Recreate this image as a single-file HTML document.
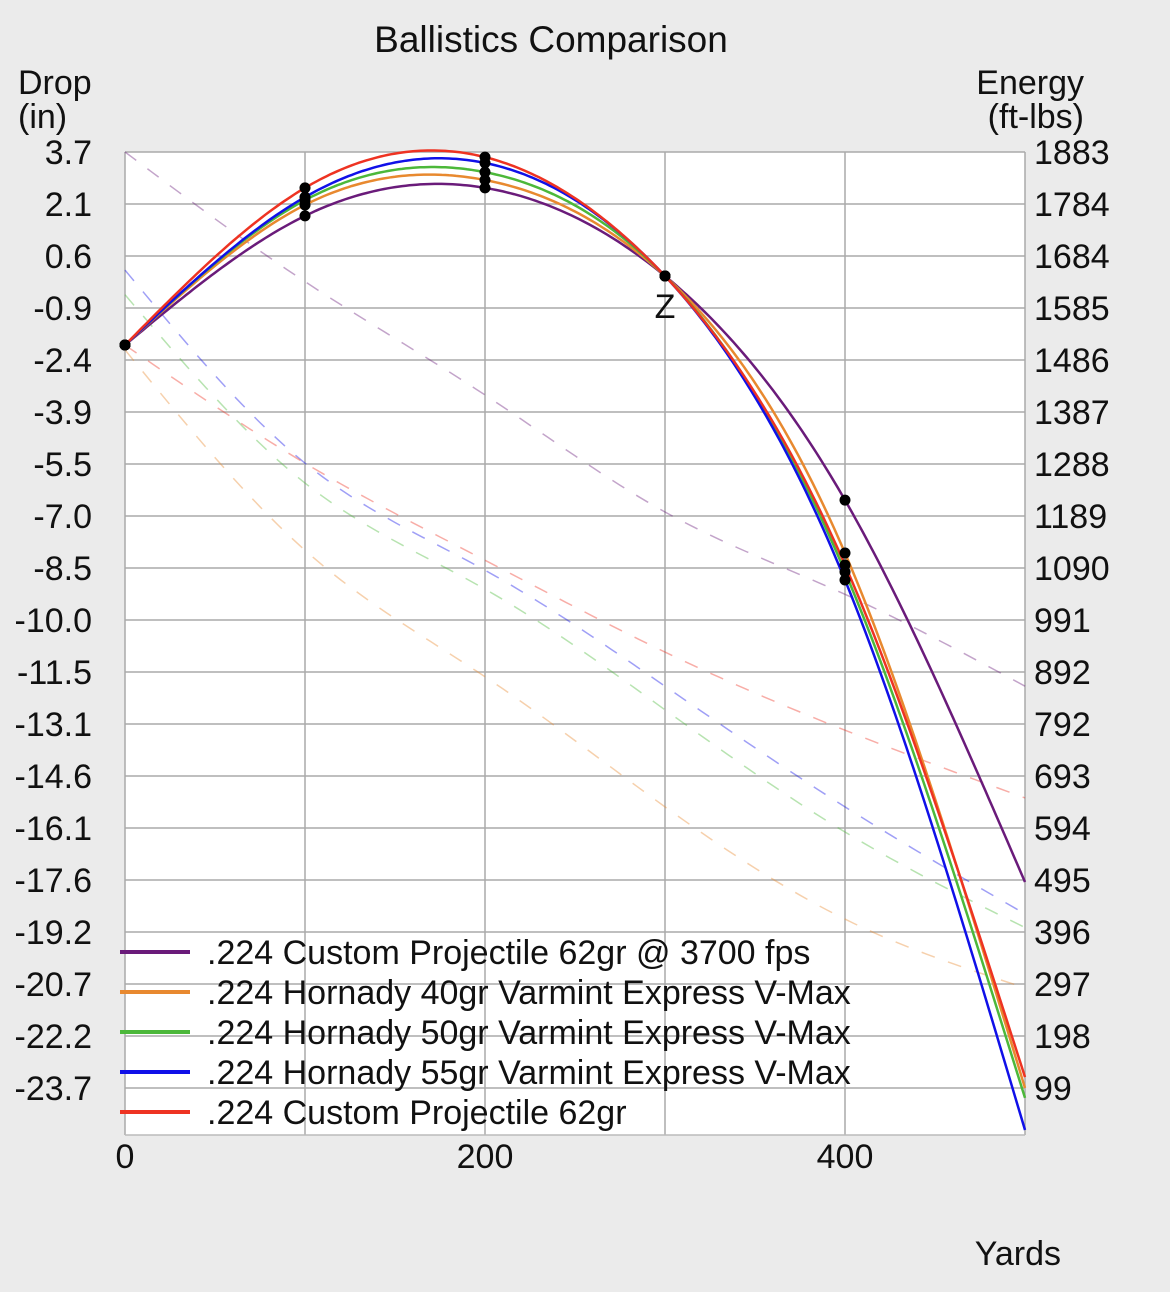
<!DOCTYPE html>
<html><head><meta charset="utf-8"><style>
html,body{margin:0;padding:0;background:#ebebeb;}
svg{display:block;font-family:"Liberation Sans",sans-serif;}
</style></head><body>
<svg id="chart" width="1170" height="1292">
<text x="551" y="52" font-size="37" text-anchor="middle" fill="#111">Ballistics Comparison</text>
<text x="18" y="94" font-size="34" fill="#111">Drop</text>
<text x="18" y="128" font-size="34" fill="#111">(in)</text>
<text x="1084" y="94" font-size="34" text-anchor="end" fill="#111">Energy</text>
<text x="1084" y="128" font-size="34" text-anchor="end" fill="#111">(ft-lbs)</text>
<text x="1061" y="1265" font-size="34" text-anchor="end" fill="#111">Yards</text>
<rect x="125" y="152" width="900" height="983" fill="#fff"/>
<g id="grid"></g><g id="energy"></g><g id="drops"></g><g id="dots"></g><g id="axes"></g><g id="legend"></g>
</svg>
<script>
const yards=[0,100,200,300,400,500];
const seriesNames=[".224 Custom Projectile 62gr @ 3700 fps",".224 Hornady 40gr Varmint Express V-Max",".224 Hornady 50gr Varmint Express V-Max",".224 Hornady 55gr Varmint Express V-Max",".224 Custom Projectile 62gr"];
const seriesColors=["#6a1b7a","#e8892f","#4cb83a","#1010e8","#ee3322"];
const dropPurple=[-1.95,1.83,2.65,0.07,-6.49,-17.67];
const dropOrange=[-1.95,2.15,2.88,0.07,-8.04,-23.70];
const dropGreen=[-1.95,2.29,3.11,0.07,-8.59,-23.99];
const dropBlue=[-1.95,2.38,3.38,0.07,-8.83,-24.93];
const dropRed=[-1.95,2.65,3.55,0.07,-8.39,-23.38];
const energyPurple=[1883,1636,1420,1197,1040,865];
const energyOrange=[1506,1124,883,635,421,290];
const energyGreen=[1611,1252,1050,820,587,405];
const energyBlue=[1658,1290,1086,865,635,431];
const energyRed=[1515,1290,1105,930,781,652];
const leftTicks=["3.7","2.1","0.6","-0.9","-2.4","-3.9","-5.5","-7.0","-8.5","-10.0","-11.5","-13.1","-14.6","-16.1","-17.6","-19.2","-20.7","-22.2","-23.7"];
const rightTicks=["1883","1784","1684","1585","1486","1387","1288","1189","1090","991","892","792","693","594","495","396","297","198","99"];
const xTicks=[0,200,400];
const xGrid=[0,100,200,300,400,500];
const drops=[dropPurple,dropOrange,dropGreen,dropBlue,dropRed];
const energies=[energyPurple,energyOrange,energyGreen,energyBlue,energyRed];

const NS="http://www.w3.org/2000/svg";
const X0=125,X1=1025,Y0=152,Y1=1135;
const xs=v=>X0+(v-0)/500*(X1-X0);
const dTop=3.7,dPerPx=0.029273;
const yd=v=>Y0+(dTop-v)/dPerPx;
const eTop=1883,ePerPx=99.1/52;
const ye=v=>Y0+(eTop-v)/ePerPx;
function mk(tag,attrs,parent){const e=document.createElementNS(NS,tag);for(const k in attrs)e.setAttribute(k,attrs[k]);document.getElementById(parent).appendChild(e);return e;}

for(let i=0;i<leftTicks.length;i++){
  const y=Y0+i*52;
  const l=mk('line',{x1:X0,x2:X1,y1:y,y2:y,stroke:'#aaa','stroke-width':1.5},'grid');
  
  
  const t=mk('text',{x:92,y:y+12,'font-size':34,'text-anchor':'end',fill:'#111'},'axes');
  t.textContent=leftTicks[i];
  
  
  const r=mk('text',{x:1034,y:y+12,'font-size':34,fill:'#111'},'axes');
  r.textContent=rightTicks[i];
  
  
}
xGrid.forEach(v=>{
  const l=mk('line',{x1:xs(v),x2:xs(v),y1:Y0,y2:Y1,stroke:'#aaa','stroke-width':1.5},'grid');
  
  
});
const bl=mk('line',{x1:X0,x2:X1,y1:Y1,y2:Y1,stroke:'#bbb','stroke-width':1.5},'grid');


xTicks.forEach(v=>{
  const t=mk('text',{x:xs(v),y:1168,'font-size':34,'text-anchor':'middle',fill:'#111'},'axes');
  t.textContent=v;
  
  
});

function spline(xa,ya){
  const n=xa.length-1,h=[],al=[],l=[1],mu=[0],z=[0],c=new Array(n+1).fill(0),b=[],d=[];
  for(let i=0;i<n;i++)h.push(xa[i+1]-xa[i]);
  for(let i=1;i<n;i++)al[i]=3/h[i]*(ya[i+1]-ya[i])-3/h[i-1]*(ya[i]-ya[i-1]);
  for(let i=1;i<n;i++){l[i]=2*(xa[i+1]-xa[i-1])-h[i-1]*mu[i-1];mu[i]=h[i]/l[i];z[i]=(al[i]-h[i-1]*z[i-1])/l[i];}
  l[n]=1;z[n]=0;
  for(let j=n-1;j>=0;j--){c[j]=z[j]-mu[j]*c[j+1];b[j]=(ya[j+1]-ya[j])/h[j]-h[j]*(c[j+1]+2*c[j])/3;d[j]=(c[j+1]-c[j])/(3*h[j]);}
  return x=>{let j=Math.min(n-1,Math.max(0,Math.floor((x-xa[0])/h[0])));const t=x-xa[j];return ya[j]+b[j]*t+c[j]*t*t+d[j]*t*t*t;};
}

energies.forEach((arr,i)=>{
  const f=spline(yards,arr);const pts=[];
  for(let x=0;x<=500;x+=5)pts.push(xs(x).toFixed(1)+','+ye(f(x)).toFixed(1));
  const p=mk('polyline',{points:pts.join(' '),fill:'none',stroke:seriesColors[i],'stroke-opacity':0.4,'stroke-width':1.5,'stroke-dasharray':'14 14'},'energy');
  
  
});

drops.forEach((arr,i)=>{
  const f=spline(yards,arr);const pts=[];
  for(let x=0;x<=500;x+=2)pts.push(xs(x).toFixed(1)+','+yd(f(x)).toFixed(1));
  const p=mk('polyline',{points:pts.join(' '),fill:'none',stroke:seriesColors[i],'stroke-width':2.5},'drops');
  
  
  [0,1,2,3,4].forEach(j=>{
    const c=mk('circle',{cx:xs(yards[j]),cy:yd(arr[j]),r:5.5,fill:'#000'},'dots');
    
    
  });
});
const zl=mk('text',{x:xs(300),y:yd(dropPurple[3])+42,'font-size':34,'text-anchor':'middle',fill:'#111'},'dots');
zl.textContent='Z';



seriesNames.forEach((n,i)=>{
  const y=952+i*40;
  const l=mk('line',{x1:120,x2:190,y1:y,y2:y,stroke:seriesColors[i],'stroke-width':4},'legend');
  
  
  const t=mk('text',{x:207,y:y+12,'font-size':34,fill:'#111'},'legend');
  t.textContent=n;
  
  
});
</script>
</body></html>
